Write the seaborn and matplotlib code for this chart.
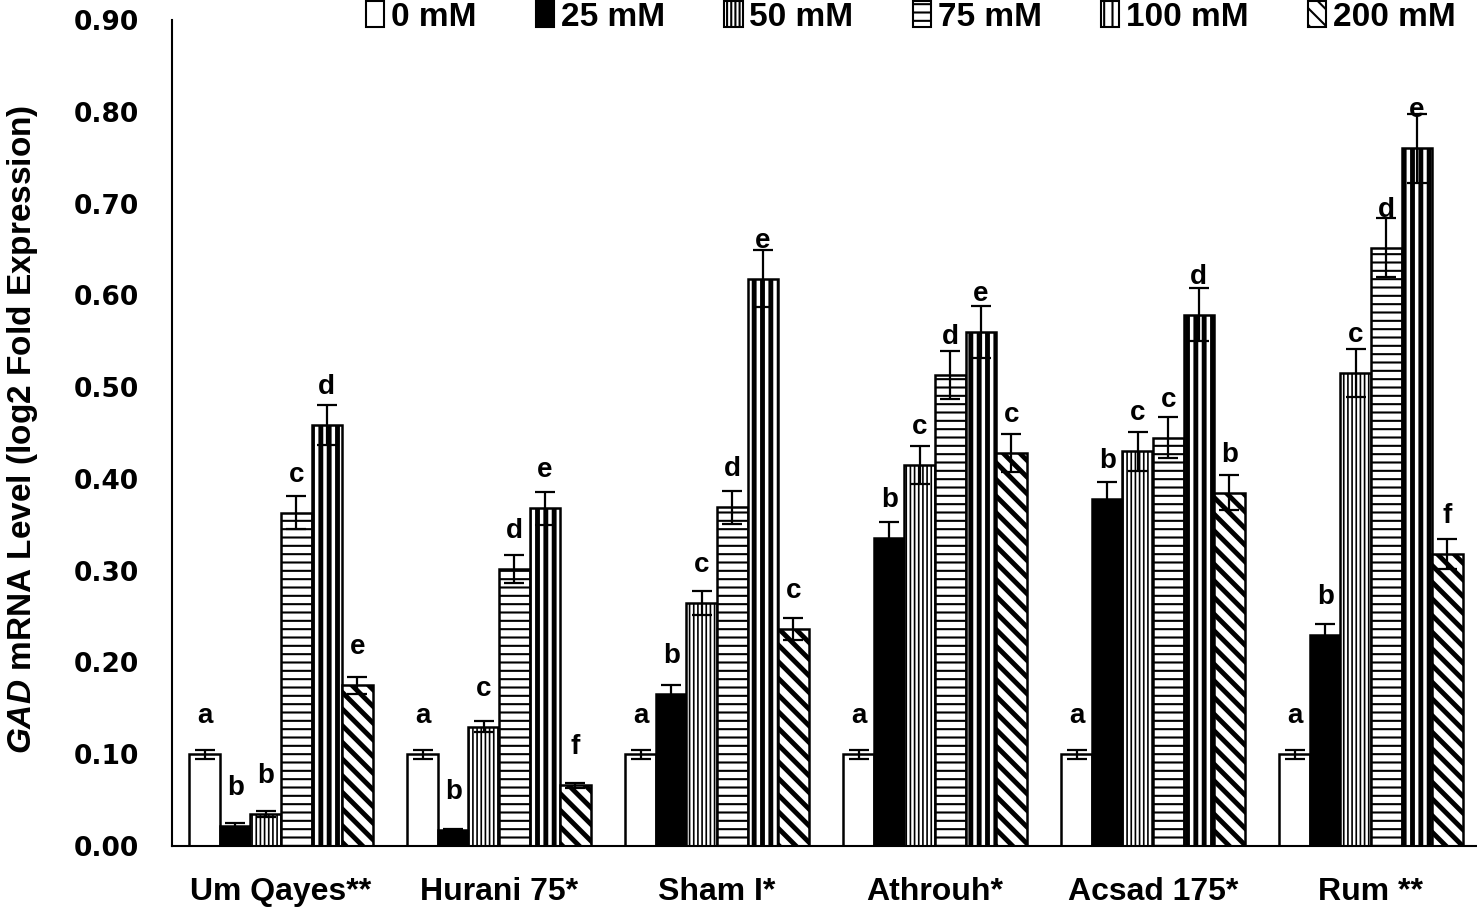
import pandas as pd
import numpy as np
import matplotlib
matplotlib.use('Agg')
import matplotlib.pyplot as plt
import seaborn as sns
from matplotlib.patches import Patch

cultivars = ['Um Qayes**', 'Hurani 75*', 'Sham I*', 'Athrouh*', 'Acsad 175*', 'Rum **']
concs = ['0 mM', '25 mM', '50 mM', '75 mM', '100 mM', '200 mM']

# mean expression, one list per concentration (order follows cultivars)
c0 = [0.100, 0.100, 0.100, 0.100, 0.100, 0.100]
c25 = [0.022, 0.017, 0.166, 0.336, 0.378, 0.230]
c50 = [0.035, 0.130, 0.265, 0.415, 0.430, 0.515]
c75 = [0.363, 0.302, 0.369, 0.513, 0.445, 0.652]
c100 = [0.459, 0.368, 0.618, 0.560, 0.579, 0.760]
c200 = [0.175, 0.066, 0.236, 0.428, 0.385, 0.318]

# standard errors
e0 = [0.005, 0.005, 0.005, 0.005, 0.005, 0.005]
e25 = [0.003, 0.002, 0.009, 0.017, 0.019, 0.012]
e50 = [0.003, 0.006, 0.013, 0.021, 0.021, 0.026]
e75 = [0.018, 0.015, 0.018, 0.026, 0.022, 0.032]
e100 = [0.022, 0.018, 0.031, 0.028, 0.029, 0.038]
e200 = [0.009, 0.003, 0.012, 0.021, 0.019, 0.016]

# significance letters
l0 = ['a', 'a', 'a', 'a', 'a', 'a']
l25 = ['b', 'b', 'b', 'b', 'b', 'b']
l50 = ['b', 'c', 'c', 'c', 'c', 'c']
l75 = ['c', 'd', 'd', 'd', 'c', 'd']
l100 = ['d', 'e', 'e', 'e', 'd', 'e']
l200 = ['e', 'f', 'c', 'c', 'b', 'f']

means = [c0, c25, c50, c75, c100, c200]
errs = [e0, e25, e50, e75, e100, e200]
letters = [l0, l25, l50, l75, l100, l200]

rows = []
for conc, vals in zip(concs, means):
    for cv, v in zip(cultivars, vals):
        rows.append({'cultivar': cv, 'conc': conc, 'value': v})
df = pd.DataFrame(rows)

sns.set_style('white')
plt.rcParams['font.family'] = ['Liberation Sans', 'DejaVu Sans']
plt.rcParams['font.weight'] = 'bold'
plt.rcParams['text.color'] = 'black'
plt.rcParams['axes.labelcolor'] = 'black'
plt.rcParams['xtick.color'] = 'black'
plt.rcParams['ytick.color'] = 'black'
plt.rcParams['mathtext.fontset'] = 'custom'
plt.rcParams['mathtext.it'] = 'Liberation Sans:italic:bold'
plt.rcParams['mathtext.rm'] = 'Liberation Sans:bold'
plt.rcParams['hatch.linewidth'] = 1.5

fig = plt.figure(figsize=(14.77, 9.09), dpi=100)
ax = fig.add_axes([172 / 1477, 63 / 909, 1308 / 1477, 826 / 909])

faces = ['white', 'black', 'white', 'white', 'white', 'white']
sns.barplot(data=df, x='cultivar', y='value', hue='conc', order=cultivars,
            hue_order=concs, palette=faces, saturation=1, width=0.84,
            edgecolor='black', linewidth=1.8, errorbar=None, legend=False, ax=ax)

hatches = ['', '', '||||', '--', '||', '\\\\']
hatch_lw = [1.5, 1.5, 1.2, 1.5, 3.5, 3.5]
for cont, h, hlw, err, lets in zip(ax.containers, hatches, hatch_lw, errs, letters):
    for bar, e, t in zip(cont, err, lets):
        bar.set_hatch(h)
        if hasattr(bar, 'set_hatch_linewidth'):
            bar.set_hatch_linewidth(hlw)
        x = bar.get_x() + bar.get_width() / 2
        y = bar.get_height()
        ax.errorbar(x, y, yerr=e, fmt='none', ecolor='black', elinewidth=1.6,
                    capsize=7, capthick=1.6, zorder=5)
        ax.annotate(t, (x, y), xytext=(0, 18), textcoords='offset points',
                    ha='center', va='bottom', fontsize=20, fontweight='bold')

ax.set_xlim(-0.5, 5.5)
ax.set_ylim(0, 0.9)
ax.set_yticks(np.arange(0, 0.91, 0.1))
ax.set_yticklabels([f'{v:.2f}' for v in np.arange(0, 0.91, 0.1)],
                   fontsize=19, fontweight='bold', family='DejaVu Sans')
ax.set_xticks(range(len(cultivars)))
ax.set_xticklabels(cultivars, fontsize=23, fontweight='bold')
ax.set_xticks(np.arange(-0.5, 6, 1), minor=True)
ax.tick_params(axis='x', which='major', length=0, pad=22)
ax.tick_params(axis='x', which='minor', length=8, width=1.5, direction='out')
ax.tick_params(axis='y', which='major', length=8, width=1.5, direction='out', pad=16)
ax.set_xlabel('')
ax.set_ylabel(r'$\mathit{GAD}$ mRNA Level (log2 Fold Expression)', fontsize=24,
              fontweight='bold')
ax.yaxis.set_label_coords(-0.101, 0.504)

for s in ['top', 'right']:
    ax.spines[s].set_visible(False)
for s in ['left', 'bottom']:
    ax.spines[s].set_linewidth(1.5)
    ax.spines[s].set_color('black')

handles = []
for conc, fc, h in zip(concs, faces, hatches):
    handles.append(Patch(facecolor=fc, edgecolor='black', hatch=h, linewidth=1.5, label=conc))
fig.legend(handles=handles, loc='upper right', bbox_to_anchor=(1.006, 1.032), ncol=6,
           frameon=False, handlelength=0.55, handleheight=0.85,
           handletextpad=0.2, columnspacing=1.78, prop={'weight': 'bold', 'size': 24})

fig.savefig('out.png', dpi=100)
